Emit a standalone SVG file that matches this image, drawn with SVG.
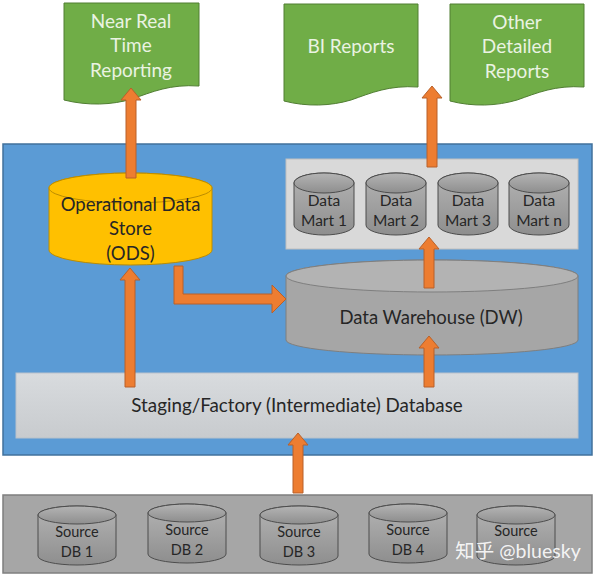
<svg xmlns="http://www.w3.org/2000/svg" width="595" height="577" viewBox="0 0 595 577">
<defs>
<linearGradient id="gcyl" x1="0" y1="0" x2="0" y2="1">
<stop offset="0" stop-color="#B4B4B4"/>
<stop offset="1" stop-color="#8E8E8E"/>
</linearGradient>
<linearGradient id="gstage" x1="0" y1="0" x2="0" y2="1">
<stop offset="0" stop-color="#D8DBDE"/>
<stop offset="1" stop-color="#C8CBCE"/>
</linearGradient>
<style>
text{font-family:Lato,"Liberation Sans","Noto Sans CJK SC",sans-serif;text-anchor:middle}
.doc{fill:#70AD47;stroke:#507E32;stroke-width:1}
.doct{fill:#EAF3E2;font-size:19px}
.cyl{fill:url(#gcyl);stroke:#4D4D4D;stroke-width:1}
.cylt{fill:#262626;font-size:15.5px}
.srct{fill:#262626;font-size:14.5px}
.arr{fill:#ED7D31;stroke:#B8612A;stroke-width:1}
.dark{fill:#262626}
</style>
</defs>
<rect id="env" x="3" y="144" width="589" height="311" fill="#5B9BD5" stroke="#41719C" stroke-width="1.5"/>
<g id="doc-nrt">
<path class="doc" d="M64,3 H199 V86 C170,84 152,92 132,99 C112,105 88,106 64,100 Z"/>
<text class="doct" x="131" y="28">Near Real</text>
<text class="doct" x="131" y="52">Time</text>
<text class="doct" x="131" y="77">Reporting</text>
</g>
<g id="doc-bi">
<path class="doc" d="M284,4 H418 V87 C389,85 371,93 351,100 C331,106 307,107 284,101 Z"/>
<text class="doct" x="351" y="53">BI Reports</text>
</g>
<g id="doc-other">
<path class="doc" d="M450,4 H584 V87 C555,85 537,93 517,100 C497,106 473,107 450,101 Z"/>
<text class="doct" x="517" y="29">Other</text>
<text class="doct" x="517" y="53">Detailed</text>
<text class="doct" x="517" y="78">Reports</text>
</g>
<g id="ods">
<path d="M49,188 V250 A81.5,15 0 0 0 212,250 V188 A81.5,15 0 0 0 49,188 Z" fill="#FFC000" stroke="#BC8C00" stroke-width="1"/>
<ellipse cx="130.5" cy="188" rx="81.5" ry="15" fill="#FFC000" stroke="#BC8C00" stroke-width="1"/>
<text class="dark" x="130.5" y="211" font-size="18.5">Operational Data</text>
<text class="dark" x="130.5" y="235" font-size="18.5">Store</text>
<text class="dark" x="130.5" y="260" font-size="18.5">(ODS)</text>
</g>
<g id="marts">
<rect x="286" y="159" width="292" height="90" fill="#D9D9D9" stroke="#BFBFBF" stroke-width="1"/>
</g>
<g id="dm1">
<path class="cyl" d="M294,183 V225 A30,10 0 0 0 354,225 V183 A30,10 0 0 0 294,183 Z"/>
<ellipse class="cyl" cx="324" cy="183" rx="30" ry="10"/>
<text class="cylt" x="324" y="206">Data</text>
<text class="cylt" x="324" y="226">Mart 1</text>
</g>
<g id="dm2">
<path class="cyl" d="M366,183 V225 A30,10 0 0 0 426,225 V183 A30,10 0 0 0 366,183 Z"/>
<ellipse class="cyl" cx="396" cy="183" rx="30" ry="10"/>
<text class="cylt" x="396" y="206">Data</text>
<text class="cylt" x="396" y="226">Mart 2</text>
</g>
<g id="dm3">
<path class="cyl" d="M438,183 V225 A30,10 0 0 0 498,225 V183 A30,10 0 0 0 438,183 Z"/>
<ellipse class="cyl" cx="468" cy="183" rx="30" ry="10"/>
<text class="cylt" x="468" y="206">Data</text>
<text class="cylt" x="468" y="226">Mart 3</text>
</g>
<g id="dm4">
<path class="cyl" d="M509,183 V225 A30,10 0 0 0 569,225 V183 A30,10 0 0 0 509,183 Z"/>
<ellipse class="cyl" cx="539" cy="183" rx="30" ry="10"/>
<text class="cylt" x="539" y="206">Data</text>
<text class="cylt" x="539" y="226">Mart n</text>
</g>
<g id="dw">
<path d="M286,276 V340 A146,15 0 0 0 578,340 V276 A146,16 0 0 0 286,276 Z" fill="#A6A6A6" stroke="#7F7F7F" stroke-width="1"/>
<ellipse cx="432" cy="276" rx="146" ry="16" fill="#B3B3B3" stroke="#7F7F7F" stroke-width="1"/>
<text class="dark" x="431" y="324" font-size="18.5">Data Warehouse (DW)</text>
</g>
<g id="staging">
<rect x="16" y="373" width="562" height="65" fill="url(#gstage)" stroke="#B9C2CB" stroke-width="1"/>
<text class="dark" x="297" y="412" font-size="18.8">Staging/Factory (Intermediate) Database</text>
</g>
<g id="sources">
<rect x="3" y="495" width="589" height="78" fill="#A6A6A6" stroke="#7F7F7F" stroke-width="1.5"/>
</g>
<g id="db1">
<path class="cyl" d="M38,515 V556 A39,9 0 0 0 116,556 V515 A39,9 0 0 0 38,515 Z"/>
<ellipse class="cyl" cx="77" cy="515" rx="39" ry="9"/>
<text class="srct" x="77" y="537">Source</text>
<text class="srct" x="77" y="557">DB 1</text>
</g>
<g id="db2">
<path class="cyl" d="M148,513 V554 A39,9 0 0 0 226,554 V513 A39,9 0 0 0 148,513 Z"/>
<ellipse class="cyl" cx="187" cy="513" rx="39" ry="9"/>
<text class="srct" x="187" y="535">Source</text>
<text class="srct" x="187" y="555">DB 2</text>
</g>
<g id="db3">
<path class="cyl" d="M260,515 V556 A39,9 0 0 0 338,556 V515 A39,9 0 0 0 260,515 Z"/>
<ellipse class="cyl" cx="299" cy="515" rx="39" ry="9"/>
<text class="srct" x="299" y="537">Source</text>
<text class="srct" x="299" y="557">DB 3</text>
</g>
<g id="db4">
<path class="cyl" d="M369,513 V554 A39,9 0 0 0 447,554 V513 A39,9 0 0 0 369,513 Z"/>
<ellipse class="cyl" cx="408" cy="513" rx="39" ry="9"/>
<text class="srct" x="408" y="535">Source</text>
<text class="srct" x="408" y="555">DB 4</text>
</g>
<g id="db5">
<path class="cyl" d="M477,515 V556 A39,9 0 0 0 555,556 V515 A39,9 0 0 0 477,515 Z"/>
<ellipse class="cyl" cx="516" cy="515" rx="39" ry="9"/>
<text class="srct" x="516" y="536">Source</text>
</g>
<g id="connectors">
<polygon class="arr" points="126,178 126,100 121,100 131,88 141,100 136,100 136,178"/>
<polygon class="arr" points="125,387 125,280 120,280 130,268 140,280 135,280 135,387"/>
<polygon class="arr" points="174,266 183,266 183,294 272,294 272,285 286,299 272,313 272,304 174,304"/>
<polygon class="arr" points="424,387 424,348 419,348 429,336 439,348 434,348 434,387"/>
<polygon class="arr" points="424,288 424,249 419,249 429,237 439,249 434,249 434,288"/>
<polygon class="arr" points="427,167 427,98 422,98 432,86 442,98 437,98 437,167"/>
<polygon class="arr" points="293,493 293,445 288,445 298,433 308,445 303,445 303,493"/>
</g>
<text x="518" y="558" font-size="19.5" fill="#FFFFFF" fill-opacity="0.9">知乎 @bluesky</text>
</svg>
